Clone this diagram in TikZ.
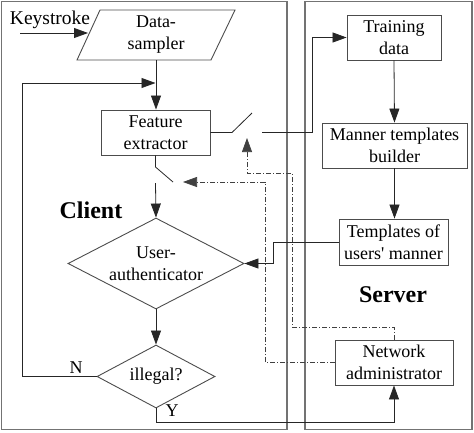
\documentclass[tikz,border=0pt]{standalone}
\usepackage{fontspec}
\setmainfont{Liberation Serif}
\newfontfamily\plainserif[Mapping={}]{Liberation Serif}
\usetikzlibrary{arrows.meta,shapes.geometric}
\begin{document}
\begin{tikzpicture}[x=1pt,y=-1pt,
  txt/.style={font=\fontsize{18}{22}\selectfont, align=center, inner sep=0pt},
  box/.style={txt, draw=black!70, line width=0.9pt, rectangle},
  dia/.style={txt, draw=black!70, line width=0.9pt, diamond},
  big/.style={font=\fontsize{24}{28}\selectfont\bfseries, inner sep=0pt},
  panel/.style={draw=black!55, line width=1.8pt},
  conn/.style={draw=black!85, line width=0.8pt},
  arr/.style={conn, -{Triangle[length=14pt,width=10pt]}},
  dd/.style={draw=black!75, line width=0.7pt, dash pattern=on 5pt off 2pt on 1pt off 2pt},
  ddarr/.style={dd, -{Triangle[length=14pt,width=10pt]}}]
\useasboundingbox (0,0) rectangle (474,432);
% panels
\draw[panel] (1.5,1.5) rectangle (287,429.5);
\draw[panel] (305,1.5) rectangle (472,429.5);
% client side
\node[txt, font=\fontsize{19.5}{22}\selectfont] (ks) at (50,20) {Keystroke};
\coordinate (ksa) at (20,33);
\coordinate (dsin) at (88,33);
\draw[draw=black!70, line width=0.9pt] (100,10) -- (235,10) -- (211,60) -- (77,60) -- cycle;
\node[txt] (ds) at (156,35) {Data-\\sampler};
\coordinate (dsb) at (156,60);
\node[box, minimum width=109pt, minimum height=45pt] (fe) at (155.5,132.5) {Feature\\extractor};
\node[dia, aspect=1.93, minimum width=176pt, minimum height=91pt] (ua) at (156,263.5) {User-\\authenticator};
\node[dia, aspect=1.9, minimum width=118pt, minimum height=63pt] (il) at (156,376.5) {illegal?};
\node[big] (client) at (91,210) {Client};
\node[txt] (nl) at (76,368) {N};
\node[txt] (yl) at (172,411) {Y};
% server side
\node[box, minimum width=94pt, minimum height=45pt] (td) at (394,37.5) {Training\\data};
\node[box, minimum width=145pt, minimum height=45pt] (mb) at (394.5,145.5) {Manner templates\\builder};
\node[box, minimum width=109pt, minimum height=46pt] (tu) at (393.5,242) {Templates of\\users{\plainserif\textquotesingle} manner};
\node[big] (server) at (393,295) {Server};
\node[box, minimum width=118pt, minimum height=45pt] (na) at (394,362.5) {Network\\administrator};
% switch coordinates
\coordinate (s1a) at (232,132.5);
\coordinate (s1b) at (252,113);
\coordinate (s1c) at (262,132.5);
\coordinate (s2a) at (155.5,167);
\coordinate (s2b) at (173,182);
\coordinate (s2c) at (155.5,183);
\coordinate (fbl) at (22,83);
\coordinate (fbr) at (155.5,83);
% connectors
\draw[arr] (ksa) -- (dsin);
\draw[arr] (dsb) -- (dsb |- fe.north);
\draw[arr] (il.west) -| (fbl) -- (fbr);
\draw[conn] (fe.east) -- (s1a) -- (s1b);
\draw[arr] (s1c) -- (312,132.5) |- (td.west);
\draw[conn] (fe.south) -- (s2a) -- (s2b);
\draw[arr] (s2c) -- (ua.north);
\draw[arr] (ua.south) -- (il.north);
\draw[arr] (td.south) -- (mb.north);
\draw[arr] (mb.south) -- (mb.south |- tu.north);
\draw[arr] (tu.west) -- (273,242) |- (ua.east);
\draw[arr] (il.south) |- (394,422) -- (na.south);
% dash-dot control lines
\draw[ddarr] (na.north) |- (292,327) |- (247,173) -- (247,138);
\draw[ddarr] (na.west) -| (265,182) -- (183,182);
\end{tikzpicture}
\end{document}
